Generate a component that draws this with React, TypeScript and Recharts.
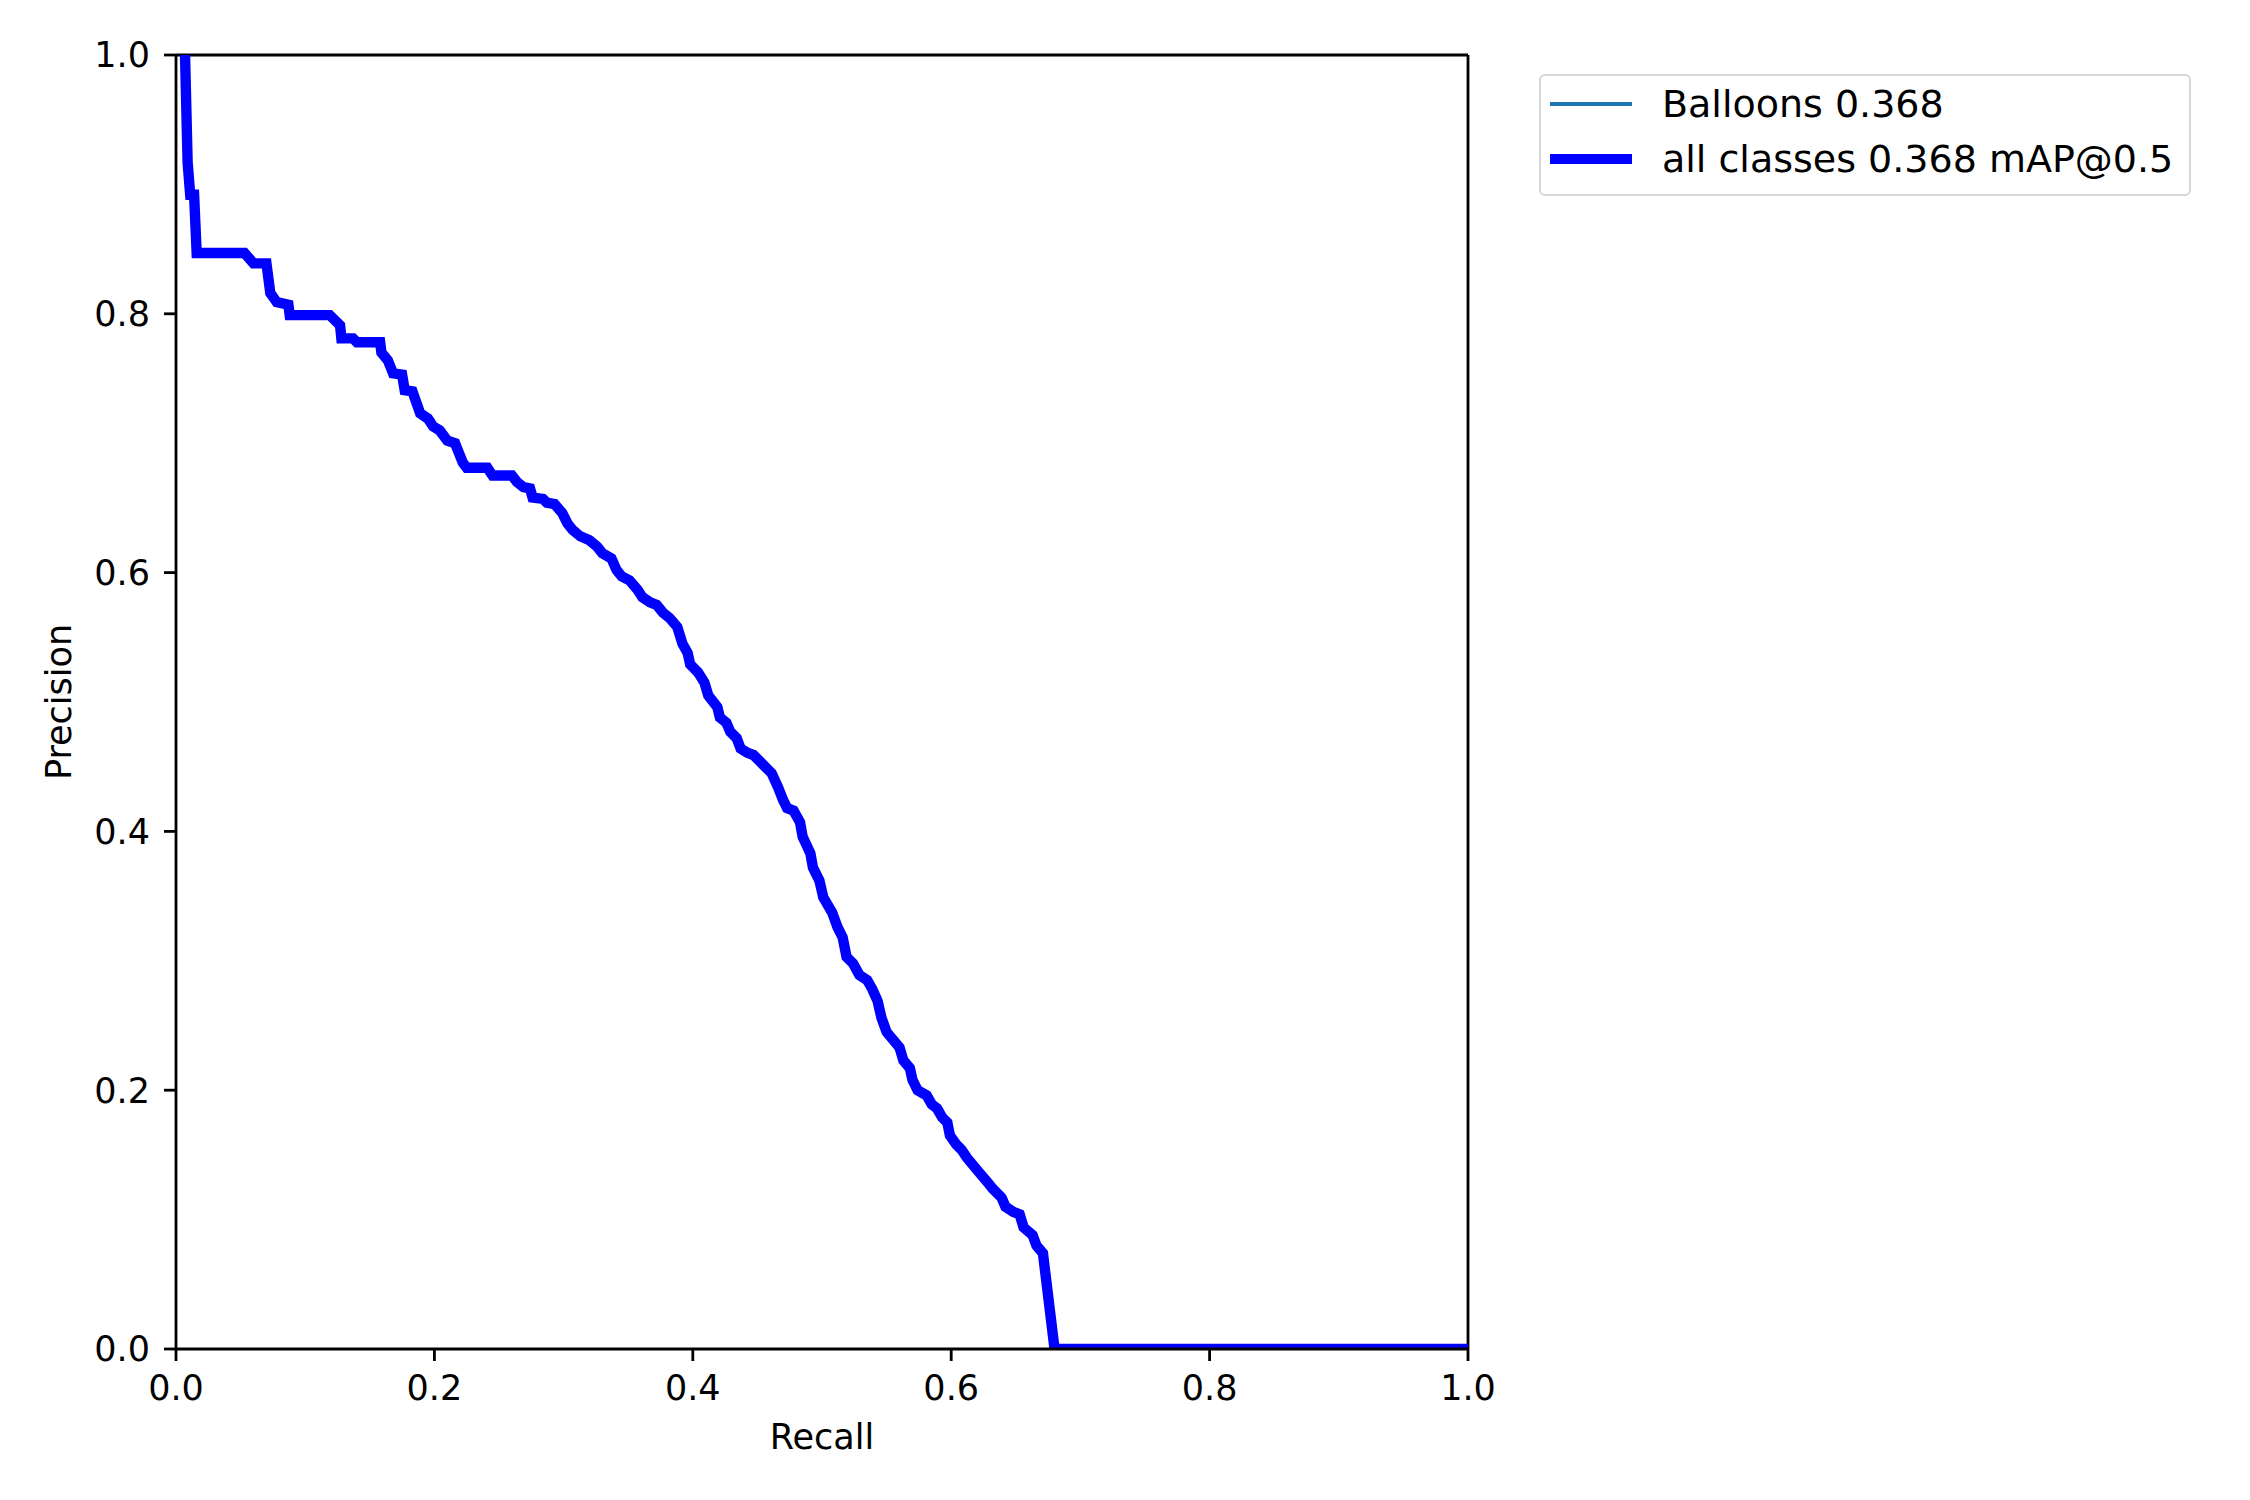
import { LineChart, Line, XAxis, YAxis, Legend, ReferenceLine } from "recharts"

// values (recall on x, precision on y)
const recall = [
  0.007, 0.009, 0.011, 0.014, 0.016, 0.053, 0.06, 0.07, 0.073, 0.078, 0.087, 0.088, 0.119, 0.127, 0.128,
  0.137, 0.14, 0.158, 0.159, 0.164, 0.168, 0.175, 0.177, 0.183, 0.189, 0.195, 0.199, 0.204, 0.21, 0.216,
  0.222, 0.225, 0.241, 0.245, 0.26, 0.264, 0.269, 0.274, 0.276, 0.284, 0.287, 0.293, 0.299, 0.303, 0.307,
  0.313, 0.32, 0.326, 0.33, 0.337, 0.341, 0.345, 0.351, 0.357, 0.361, 0.367, 0.372, 0.377, 0.382, 0.388,
  0.392, 0.396, 0.398, 0.404, 0.409, 0.412, 0.419, 0.421, 0.426, 0.429, 0.434, 0.437, 0.442, 0.447, 0.452,
  0.461, 0.466, 0.47, 0.473, 0.478, 0.483, 0.485, 0.491, 0.493, 0.498, 0.501, 0.508, 0.512, 0.516, 0.519,
  0.524, 0.529, 0.535, 0.539, 0.543, 0.546, 0.55, 0.555, 0.56, 0.563, 0.568, 0.57, 0.574, 0.581, 0.585,
  0.589, 0.593, 0.597, 0.599, 0.604, 0.608, 0.612, 0.617, 0.622, 0.628, 0.632, 0.639, 0.642, 0.648, 0.653,
  0.656, 0.663, 0.666, 0.671, 0.68, 1.0,
]
const precision = [
  1.0, 0.917, 0.892, 0.892, 0.847, 0.847, 0.839, 0.839, 0.816, 0.809, 0.807, 0.799, 0.799, 0.791, 0.781,
  0.781, 0.778, 0.778, 0.77, 0.764, 0.754, 0.753, 0.741, 0.74, 0.723, 0.719, 0.713, 0.71, 0.702, 0.7,
  0.685, 0.681, 0.681, 0.675, 0.675, 0.67, 0.666, 0.665, 0.658, 0.657, 0.654, 0.653, 0.646, 0.638, 0.633,
  0.628, 0.625, 0.62, 0.615, 0.611, 0.602, 0.597, 0.594, 0.587, 0.581, 0.577, 0.575, 0.569, 0.565, 0.558,
  0.545, 0.538, 0.529, 0.523, 0.515, 0.505, 0.496, 0.488, 0.484, 0.477, 0.472, 0.464, 0.461, 0.459, 0.454,
  0.445, 0.434, 0.424, 0.418, 0.416, 0.407, 0.396, 0.383, 0.372, 0.362, 0.349, 0.337, 0.326, 0.318, 0.303,
  0.298, 0.289, 0.285, 0.278, 0.269, 0.256, 0.245, 0.239, 0.233, 0.223, 0.217, 0.208, 0.2, 0.196, 0.189,
  0.186, 0.179, 0.175, 0.165, 0.158, 0.154, 0.148, 0.142, 0.136, 0.129, 0.124, 0.117, 0.11, 0.106, 0.104,
  0.094, 0.088, 0.08, 0.074, 0.0, 0.0,
]
const ticks = [0, 0.2, 0.4, 0.6, 0.8, 1.0]
const className = "Balloons"
const classAP = 0.368
const mAP = 0.368

const data = recall.map((r, i) => ({ r, p: precision[i] }))

const FONT = "DejaVu Sans"
const axisStroke = { stroke: "#000", strokeWidth: 2.8 }

function PrecisionLabel(props: any) {
  const { viewBox } = props
  const cy = viewBox.y + viewBox.height / 2
  return (
    <text
      x={59}
      y={cy}
      transform={`rotate(-90, 59, ${cy})`}
      textAnchor="middle"
      dominantBaseline="central"
      fontSize={35}
      fontFamily={FONT}
      fill="#000"
    >
      Precision
    </text>
  )
}

function RecallLabel(props: any) {
  const { viewBox } = props
  return (
    <text
      x={viewBox.x + viewBox.width / 2}
      y={1437}
      textAnchor="middle"
      dominantBaseline="central"
      fontSize={35}
      fontFamily={FONT}
      fill="#000"
    >
      Recall
    </text>
  )
}

// matplotlib style legend box
function LegendBox(props: any) {
  const items = props.payload || []
  return (
    <div
      style={{
        boxSizing: "border-box",
        width: 652,
        height: 122,
        border: "2.8px solid #d6d6d6",
        borderRadius: 6,
        background: "#fff",
        fontFamily: FONT,
        fontSize: 38,
        paddingTop: 6,
        color: "#000",
      }}
    >
      {items.map((it: any, i: number) => (
        <div key={i} style={{ display: "flex", alignItems: "center", height: 44, marginBottom: 11 }}>
          <div
            style={{
              flexShrink: 0,
              marginLeft: 9,
              width: 82,
              height: it.payload?.strokeWidth ?? 3.5,
              background: it.color,
            }}
          />
          <span style={{ marginLeft: 30, whiteSpace: "nowrap" }}>{it.value}</span>
        </div>
      ))}
    </div>
  )
}

export default function App() {
  return (
    <div style={{ position: "absolute", left: 0, top: 0, width: 2250, height: 1500, background: "#fff" }}>
      <LineChart width={2250} height={1500} data={data} margin={{ top: 55, right: 782, bottom: 0, left: 0 }}>
        <XAxis
          type="number"
          dataKey="r"
          domain={[0, 1]}
          ticks={ticks}
          allowDataOverflow
          height={151}
          tickSize={12}
          tickMargin={14}
          axisLine={axisStroke}
          tickLine={axisStroke}
          tick={{ fill: "#000", fontSize: 35, fontFamily: FONT }}
          tickFormatter={(v) => v.toFixed(1)}
          label={{ content: RecallLabel }}
        />
        <YAxis
          type="number"
          domain={[0, 1]}
          ticks={ticks}
          allowDataOverflow
          width={176}
          tickSize={12}
          tickMargin={14}
          axisLine={axisStroke}
          tickLine={axisStroke}
          tick={{ fill: "#000", fontSize: 35, fontFamily: FONT }}
          tickFormatter={(v) => v.toFixed(1)}
          label={{ content: PrecisionLabel }}
        />
        <ReferenceLine y={1} stroke="#000" strokeWidth={2.8} />
        <ReferenceLine x={1} stroke="#000" strokeWidth={2.8} />
        <Line
          name={`${className} ${classAP.toFixed(3)}`}
          type="linear"
          dataKey="p"
          stroke="#1f77b4"
          strokeWidth={3.5}
          dot={false}
          activeDot={false}
          isAnimationActive={false}
        />
        <Line
          name={`all classes ${mAP.toFixed(3)} mAP@0.5`}
          type="linear"
          dataKey="p"
          stroke="#0000ff"
          strokeWidth={10.4}
          dot={false}
          activeDot={false}
          isAnimationActive={false}
        />
        <Legend
          layout="vertical"
          align="center"
          verticalAlign="middle"
          content={LegendBox}
          wrapperStyle={{ left: 1539, top: 74, width: 652 }}
        />
      </LineChart>
    </div>
  )
}
